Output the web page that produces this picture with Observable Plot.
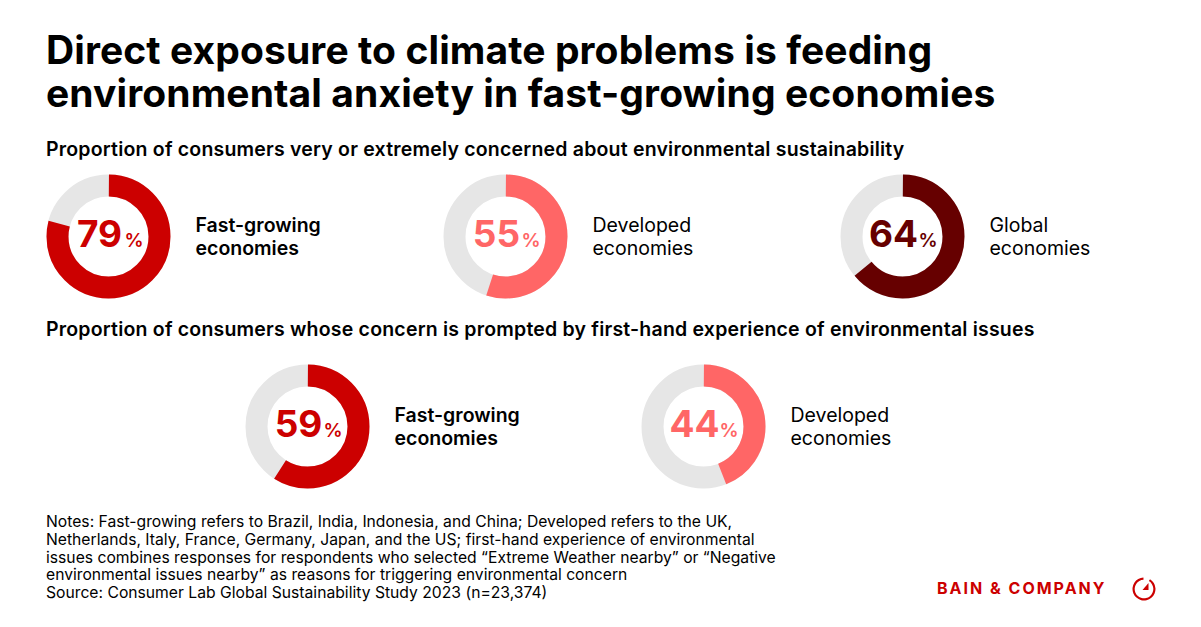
<!DOCTYPE html>
<html>
<head>
<meta charset="utf-8">
<script src="https://cdn.jsdelivr.net/npm/d3@7"></script>
<script src="https://cdn.jsdelivr.net/npm/@observablehq/plot@0.6"></script>
<style>
  html, body { margin: 0; padding: 0; background: #fff; }
  body { width: 1201px; height: 627px; position: relative; overflow: hidden; font-family: Inter, "Noto Sans", sans-serif; color: #000; }
  .abs { position: absolute; white-space: nowrap; }
  #title { left: 46px; top: 28px; font-size: 39px; line-height: 43px; font-weight: 700; letter-spacing: 0.1px; }
  .sub { left: 46px; font-size: 19.5px; line-height: 22px; font-weight: 600; letter-spacing: 0.2px; }
  #notes { left: 46px; top: 513px; font-size: 15.5px; line-height: 17.8px; font-weight: 400; }
  #logo { left: 937px; top: 580px; font-size: 16px; line-height: 16px; font-weight: 700; color: #cc0000; letter-spacing: 2px; }
  .row { position: absolute; left: 0; }
</style>
</head>
<body>
<script>
// ---- data ----
const groups = ["Fast-growing economies", "Developed economies", "Global economies"];
const groupColors = ["#cc0000", "#ff6666", "#660000"];

const concernedGroups = ["Fast-growing economies", "Developed economies", "Global economies"];
const concernedValues = [79, 55, 64];

const firstHandGroups = ["Fast-growing economies", "Developed economies"];
const firstHandValues = [59, 44];

const titleText = ["Direct exposure to climate problems is feeding", "environmental anxiety in fast-growing economies"];
const subtitle1 = "Proportion of consumers very or extremely concerned about environmental sustainability";
const subtitle2 = "Proportion of consumers whose concern is prompted by first-hand experience of environmental issues";
const noteLines = [
  "Notes: Fast-growing refers to Brazil, India, Indonesia, and China; Developed refers to the UK,",
  "Netherlands, Italy, France, Germany, Japan, and the US; first-hand experience of environmental",
  "issues combines responses for respondents who selected \u201cExtreme Weather nearby\u201d or \u201cNegative",
  "environmental issues nearby\u201d as reasons for triggering environmental concern",
  "Source: Consumer Lab Global Sustainability Study 2023 (n=23,374)"
];

// ---- text blocks ----
function addDiv(cls, id, html, top) {
  const d = document.createElement("div");
  d.className = "abs " + cls;
  if (id) d.id = id;
  d.innerHTML = html;
  if (top != null) d.style.top = top + "px";
  document.body.appendChild(d);
  return d;
}
addDiv("", "title", titleText.join("<br>"));
addDiv("sub", null, subtitle1, 138);
addDiv("sub", null, subtitle2, 318);
const notesDiv = addDiv("", "notes", noteLines.map(l => `<span>${l}</span>`).join("<br>"));
addDiv("", "logo", "BAIN &amp; COMPANY");

// fit notes so the first line spans the same width as in the reference
(function fitNotes() {
  const span = notesDiv.querySelector("span");
  const w = span.getBoundingClientRect().width;
  if (w > 0) {
    const fs = 15.5 * 687 / w;
    notesDiv.style.fontSize = Math.max(14, Math.min(17, fs)) + "px";
  }
})();

// logo mark
const logoSvg = d3.select("body").append("svg")
  .attr("width", 28).attr("height", 28)
  .style("position", "absolute").style("left", "1130px").style("top", "575px");
logoSvg.append("path")
  .attr("d", d3.arc()({innerRadius: 9.3, outerRadius: 11.5, startAngle: 0.55, endAngle: 2 * Math.PI - 0.05}))
  .attr("transform", "translate(14,14)").attr("fill", "#cc0000");
logoSvg.append("path")
  .attr("d", "M12.5,15 L18.5,8 L18.5,15 Z").attr("fill", "#cc0000");

// ---- donut rows ----
const R = 51, RING = 22, C = 2 * Math.PI * R;

function donutRow(names, values, xRange, top) {
  const data = names.map((name, i) => ({name, value: values[i]}));
  const marks = [
    Plot.dot(data, {x: "name", r: R, stroke: "#e6e6e6", strokeWidth: RING, fill: "none"}),
    ...data.map(d => {
      const dash = d.value / 100 * C;
      return Plot.dot([d], {
        x: "name", r: R, stroke: "name", strokeWidth: RING, fill: "none",
        strokeDasharray: `${dash} ${C - dash}`,
        strokeDashoffset: C / 4
      });
    }),
    Plot.text(data, {x: "name", text: d => String(d.value), fill: "name",
      fontSize: 37, fontWeight: 700, dx: -9, dy: -1, textAnchor: "middle"}),
    Plot.text(data, {x: "name", text: () => "%", fill: "name",
      fontSize: 19, fontWeight: 600, dx: 16, dy: 4.5, textAnchor: "start"}),
    ...data.map(d => Plot.text([d], {x: "name", text: v => v.name.replace(" ", "\n"),
      fill: "#000", fontSize: 19.5, lineHeight: 1.18, textAnchor: "start", dx: 87,
      fontWeight: d.name.startsWith("Fast") ? 600 : 400}))
  ];
  const chart = Plot.plot({
    width: 1201, height: 140, margin: 0,
    x: {type: "point", domain: names, range: xRange, padding: 0, axis: null},
    color: {domain: groups, range: groupColors},
    style: {fontFamily: "Inter, 'Noto Sans', sans-serif", background: "transparent"},
    marks
  });
  const wrap = document.createElement("div");
  wrap.className = "row";
  wrap.style.top = top + "px";
  wrap.appendChild(chart);
  document.body.appendChild(wrap);
}

donutRow(concernedGroups, concernedValues, [107.5, 901.5], 166);
donutRow(firstHandGroups, firstHandValues, [306.5, 703], 355.5);
</script>
</body>
</html>
